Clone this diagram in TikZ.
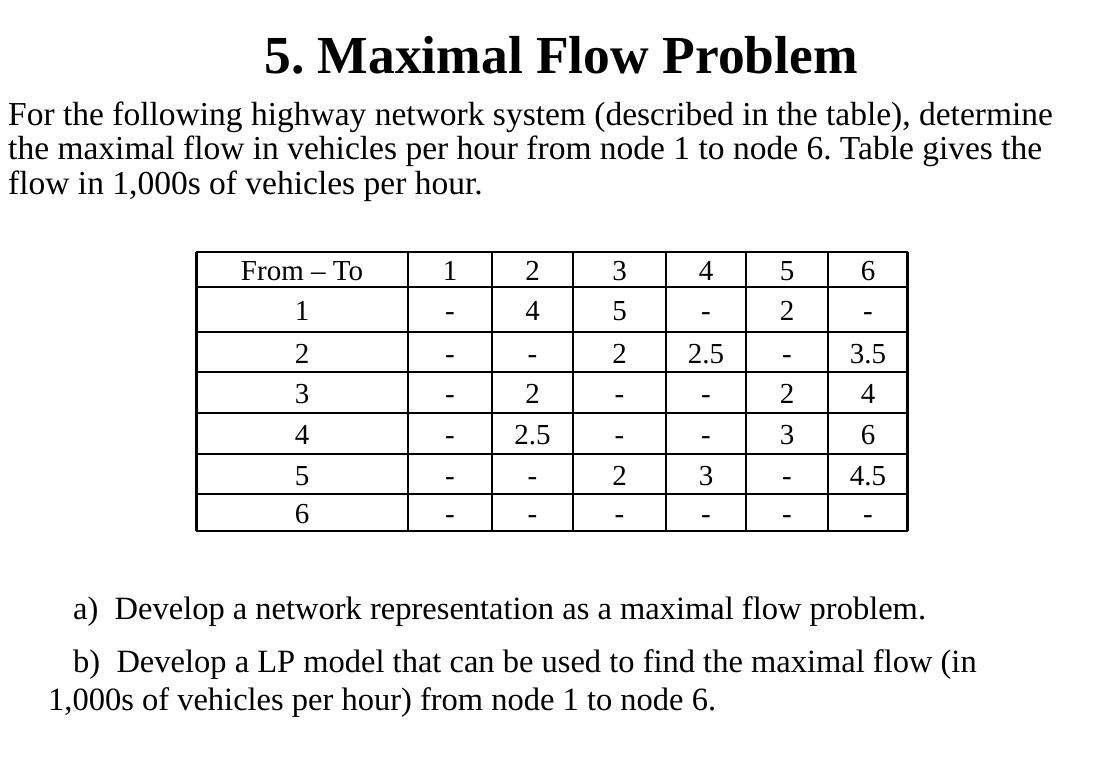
\documentclass[tikz,border=0pt]{standalone}
\usepackage{fontspec}
\setmainfont{Liberation Serif}
\begin{document}
\begin{tikzpicture}[x=1pt,y=-1pt,
  body/.style={anchor=west,inner sep=0,font=\fontsize{33.5}{38}\selectfont},
  item/.style={anchor=west,inner sep=0,font=\fontsize{32.5}{37}\selectfont},
  cell/.style={inner sep=0,text height=20pt,text depth=0pt,font=\fontsize{29}{33}\selectfont},
  grid/.style={line width=1.3pt}]
\useasboundingbox (0,0) rectangle (1096,762);
\node[inner sep=0,font=\fontsize{53.5}{58}\selectfont\bfseries] (title) at (561,55) {5.\ Maximal Flow Problem};
\node[body] (l1) at (8,117) {For the following highway network system (described in the table), determine};
\node[body] (l2) at (8,151) {the maximal flow in vehicles per hour from node 1 to node 6.\ Table gives the};
\node[body] (l3) at (8,186) {flow in 1,000s of vehicles per hour.};
% table
\def\xs{{196,408,492,573,666,746,828,908}}
\def\ys{{252,287,332,372,413,454,494,531}}
\foreach \x in {196,408,492,573,666,746,828,908} \draw[grid] (\x,252) -- (\x,531);
\foreach \y in {252,287,332,372,413,454,494,531} \draw[grid] (196,\y) -- (908,\y);
\draw[line width=2.5pt] (197,252) -- (197,531) (907,252) -- (907,531);
\newcommand\rowvals[9]{%
  \foreach \t [count=\i] in {#2,#3,#4,#5,#6,#7,#8} {
    \pgfmathsetmacro\xa{\xs[\i-1]}\pgfmathsetmacro\xb{\xs[\i]}
    \pgfmathsetmacro\ya{\ys[#1]}\pgfmathsetmacro\yb{\ys[#1+1]}
    \node[cell] (c#1-\i) at ({(\xa+\xb)/2},{(\ya+\yb)/2+1}) {\t};
  }}
\rowvals{0}{From -- To}{1}{2}{3}{4}{5}{6}{}{}
\rowvals{1}{1}{-}{4}{5}{-}{2}{-}{}{}
\rowvals{2}{2}{-}{-}{2}{2.5}{-}{3.5}{}{}
\rowvals{3}{3}{-}{2}{-}{-}{2}{4}{}{}
\rowvals{4}{4}{-}{2.5}{-}{-}{3}{6}{}{}
\rowvals{5}{5}{-}{-}{2}{3}{-}{4.5}{}{}
\rowvals{6}{6}{-}{-}{-}{-}{-}{-}{}{}
\node[item] (a) at (73,612) {a)\ \ Develop a network representation as a maximal flow problem.};
\node[item] (b1) at (73,665) {b)\ \ Develop a LP model that can be used to find the maximal flow (in};
\node[item] (b2) at (48,703) {1,000s of vehicles per hour) from node 1 to node 6.};
\end{tikzpicture}
\end{document}
